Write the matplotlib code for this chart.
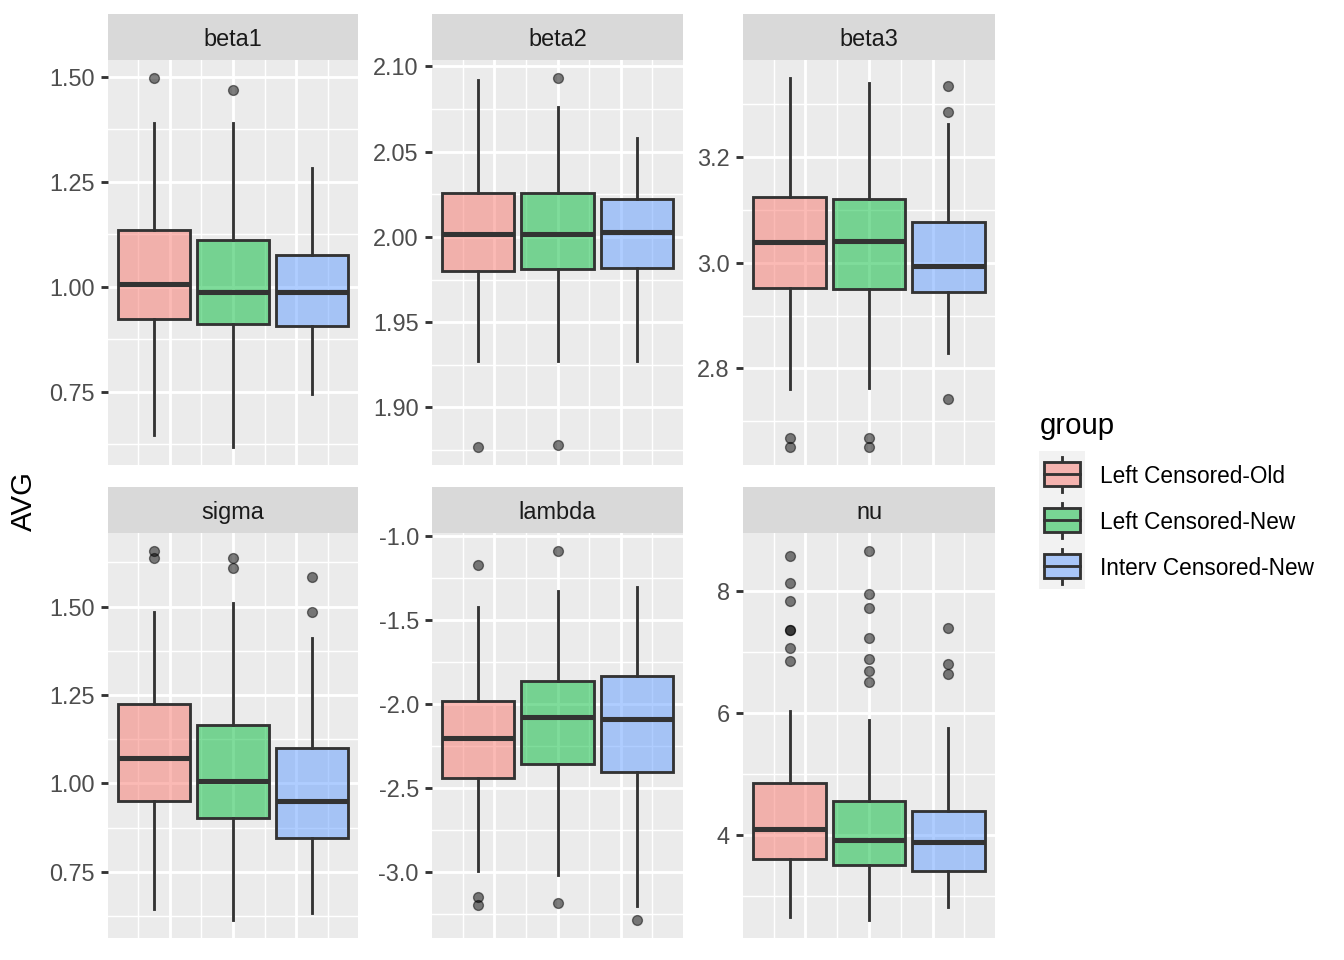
import matplotlib
matplotlib.use("Agg")
import matplotlib.pyplot as plt
from matplotlib.patches import Rectangle
from matplotlib.lines import Line2D

plt.rcParams['font.family'] = ['Liberation Sans', 'DejaVu Sans']

# ---------------- data ----------------
panels = ["beta1", "beta2", "beta3", "sigma", "lambda", "nu"]
groups = ["Left Censored-Old", "Left Censored-New", "Interv Censored-New"]
group_colors = ["#F8766D", "#00BA38", "#619CFF"]

lower_whisker = [
    [0.648, 0.620, 0.746],
    [1.927, 1.927, 1.927],
    [2.761, 2.762, 2.830],
    [0.645, 0.615, 0.634],
    [-2.997, -3.017, -3.202],
    [2.655, 2.612, 2.820],
]
q1 = [
    [0.923, 0.912, 0.907],
    [1.980, 1.981, 1.982],
    [2.953, 2.951, 2.944],
    [0.951, 0.903, 0.846],
    [-2.441, -2.355, -2.407],
    [3.610, 3.506, 3.407],
]
median = [
    [1.006, 0.988, 0.988],
    [2.002, 2.002, 2.003],
    [3.039, 3.041, 2.994],
    [1.072, 1.006, 0.950],
    [-2.205, -2.080, -2.092],
    [4.094, 3.918, 3.880],
]
q3 = [
    [1.135, 1.112, 1.077],
    [2.026, 2.026, 2.022],
    [3.124, 3.121, 3.078],
    [1.224, 1.164, 1.099],
    [-1.982, -1.862, -1.833],
    [4.844, 4.560, 4.395],
]
upper_whisker = [
    [1.390, 1.390, 1.283],
    [2.092, 2.076, 2.058],
    [3.349, 3.341, 3.263],
    [1.486, 1.510, 1.410],
    [-1.422, -1.324, -1.302],
    [6.025, 5.877, 5.756],
]
outliers = [
    [[1.496], [1.468], []],
    [[1.877], [2.093, 1.878], []],
    [[2.669, 2.652], [2.669, 2.652], [3.335, 3.285, 2.743]],
    [[1.656, 1.638], [1.636, 1.610], [1.584, 1.485]],
    [[-1.169, -3.153, -3.196], [-1.089, -3.188], [-3.286]],
    [[8.565, 8.137, 7.840, 7.365, 7.352, 7.067, 6.853],
     [8.647, 7.951, 7.725, 7.231, 6.881, 6.688, 6.507],
     [7.386, 6.803, 6.639]],
]
y_ticks = [
    [0.75, 1.00, 1.25, 1.50],
    [1.90, 1.95, 2.00, 2.05, 2.10],
    [2.8, 3.0, 3.2],
    [0.75, 1.00, 1.25, 1.50],
    [-3.0, -2.5, -2.0, -1.5, -1.0],
    [4, 6, 8],
]
y_tick_labels = [
    ["0.75", "1.00", "1.25", "1.50"],
    ["1.90", "1.95", "2.00", "2.05", "2.10"],
    ["2.8", "3.0", "3.2"],
    ["0.75", "1.00", "1.25", "1.50"],
    ["-3.0", "-2.5", "-2.0", "-1.5", "-1.0"],
    ["4", "6", "8"],
]
y_title = "AVG"
legend_title = "group"

# ---------------- layout ----------------
W, H = 1344, 960
fig = plt.figure(figsize=(7, 5), dpi=192)
fig.patch.set_facecolor("white")

col_x = [(108, 358), (432, 683), (743, 995)]
row_y = [(14, 60, 465), (487, 533, 938)]

LW = 1.065
positions = [-0.3125, 0.0, 0.3125]
box_w = 0.285


def px_rect(x0, y0, x1, y1):
    return [x0 / W, 1 - y1 / H, (x1 - x0) / W, (y1 - y0) / H]


for i, name in enumerate(panels):
    r, c = divmod(i, 3)
    x0, x1 = col_x[c]
    s0, p0, p1 = row_y[r]
    # strip
    sax = fig.add_axes(px_rect(x0, s0, x1, p0))
    sax.set_facecolor("#D9D9D9")
    sax.set_xticks([]); sax.set_yticks([])
    for sp in sax.spines.values():
        sp.set_visible(False)
    sax.text(0.5, 0.45, name, ha="center", va="center", fontsize=8.8,
             color="#1A1A1A", transform=sax.transAxes)

    ax = fig.add_axes(px_rect(x0, p0, x1, p1))
    ax.set_facecolor("#EBEBEB")
    for sp in ax.spines.values():
        sp.set_visible(False)
    ax.set_axisbelow(True)

    stats = []
    for g in range(3):
        stats.append(dict(whislo=lower_whisker[i][g], q1=q1[i][g], med=median[i][g],
                          q3=q3[i][g], whishi=upper_whisker[i][g],
                          fliers=outliers[i][g], label=groups[g]))
    res = ax.bxp(stats, positions=positions, widths=box_w, patch_artist=True,
                 showcaps=False,
                 boxprops=dict(edgecolor="#333333", linewidth=LW),
                 whiskerprops=dict(color="#333333", linewidth=LW),
                 medianprops=dict(color="#333333", linewidth=1.9, solid_capstyle="butt"),
                 flierprops=dict(marker="o", markersize=3.7,
                                 markerfacecolor=(0, 0, 0, 0.5),
                                 markeredgecolor=(0, 0, 0, 0.5),
                                 markeredgewidth=0.5, linestyle="none"))
    for g, patch in enumerate(res["boxes"]):
        col = matplotlib.colors.to_rgb(group_colors[g])
        patch.set_facecolor((*col, 0.5))
        patch.set_zorder(2)
    for ln in res["medians"]:
        ln.set_zorder(3)

    ticks = y_ticks[i]
    step = ticks[1] - ticks[0]
    minor = [t - step / 2 for t in ticks] + [ticks[-1] + step / 2]
    ax.set_yticks(ticks)
    ax.set_yticklabels(y_tick_labels[i])
    ax.set_yticks(minor, minor=True)
    ax.set_xticks([-0.25, 0.0, 0.25])
    ax.set_xticks([-0.375, -0.125, 0.125, 0.375], minor=True)
    ax.set_xticklabels([])
    ax.tick_params(axis="x", which="both", length=0)
    ax.tick_params(axis="y", which="minor", length=0)
    ax.tick_params(axis="y", which="major", length=2.75, width=LW, color="#333333",
                   labelsize=8.8, labelcolor="#4D4D4D", pad=2.2)
    ax.grid(which="major", color="white", linewidth=LW)
    ax.grid(which="minor", color="white", linewidth=LW / 2)

    # y limits from data (+5%), set after ticks so they are not expanded
    vals = lower_whisker[i] + upper_whisker[i] + [v for g in outliers[i] for v in g]
    lo, hi = min(vals), max(vals)
    pad = (hi - lo) * 0.05
    ax.set_ylim(lo - pad, hi + pad)
    ax.set_xlim(-0.496, 0.496)

# y title
fig.text(24 / W, 1 - 501 / H, y_title, rotation=90, ha="center", va="center",
         fontsize=11, color="black")

# legend (drawn in pixel coordinates)
lax = fig.add_axes([0, 0, 1, 1], facecolor="none")
lax.set_xlim(0, W); lax.set_ylim(H, 0)
lax.axis("off")
lax.text(1040, 434, legend_title, fontsize=11, ha="left", va="baseline", color="black")
key_top = 451
key_h = 46
for g, name in enumerate(groups):
    ky = key_top + g * key_h
    lax.add_patch(Rectangle((1039, ky), 46, key_h, facecolor="#F2F2F2", edgecolor="none"))
    cy = ky + key_h / 2
    col = matplotlib.colors.to_rgb(group_colors[g])
    lax.add_line(Line2D([1062, 1062], [cy - 17.5, cy + 17.5], color="#333333", linewidth=LW))
    lax.add_patch(Rectangle((1044, cy - 11.7), 36, 23.4, facecolor=(*col, 0.5),
                            edgecolor="#333333", linewidth=LW, zorder=3))
    lax.add_patch(Rectangle((1044, cy - 11.7), 36, 23.4, facecolor="#F2F2F2",
                            edgecolor="none", zorder=2))
    lax.add_line(Line2D([1044, 1080], [cy, cy], color="#333333", linewidth=LW, zorder=4))
    lax.text(1100, cy + 2.5, name, fontsize=8.5, ha="left", va="center", color="black")

fig.savefig("out.png", dpi=192, facecolor="white")
